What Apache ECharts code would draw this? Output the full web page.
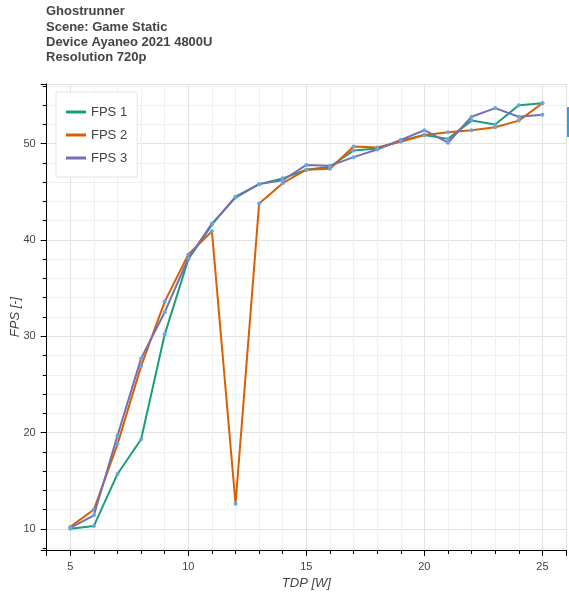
<!DOCTYPE html>
<html>
<head>
<meta charset="utf-8">
<script src="https://cdn.jsdelivr.net/npm/echarts@6/dist/echarts.min.js"></script>
<style>
html,body{margin:0;padding:0;background:#fff;}
#chart{width:569px;height:593px;}
</style>
</head>
<body>
<div id="chart"></div>
<script>
const titleLines = ["Ghostrunner", "Scene: Game Static", "Device Ayaneo 2021 4800U", "Resolution 720p"];
const tdp = [5, 6, 7, 8, 9, 10, 11, 12, 13, 14, 15, 16, 17, 18, 19, 20, 21, 22, 23, 24, 25];
const fps1 = [10.0, 10.3, 15.7, 19.3, 30.2, 38.0, 41.6, 44.5, 45.8, 46.4, 47.3, 47.6, 49.3, 49.5, 50.3, 50.9, 50.5, 52.4, 52.0, 54.0, 54.2];
const fps2 = [10.2, 12.0, 18.8, 26.9, 33.6, 38.5, 40.9, 12.6, 43.8, 45.9, 47.3, 47.4, 49.7, 49.6, 50.2, 50.9, 51.2, 51.4, 51.7, 52.4, 54.2];
const fps3 = [10.1, 11.4, 19.7, 27.7, 32.5, 38.1, 41.7, 44.4, 45.8, 46.2, 47.8, 47.7, 48.6, 49.4, 50.4, 51.4, 50.1, 52.8, 53.7, 52.8, 53.0];
const seriesNames = ["FPS 1", "FPS 2", "FPS 3"];
const seriesColors = ["#1b9e77", "#d95f02", "#7570b3"];
const xRange = [4, 26];
const yRange = [7.8, 56.2];

const FONT = "'Liberation Sans', Arial, Helvetica, sans-serif";
const chart = echarts.init(document.getElementById('chart'), null, {renderer: 'canvas'});

function pairs(xs, ys) { return xs.map((x, i) => [x, ys[i]]); }
const allSeries = [fps1, fps2, fps3];

const axisCommon = {
  axisLine: {show: true, onZero: false, lineStyle: {color: '#000', width: 1}},
  axisTick: {show: true, length: 6, lineStyle: {color: '#000', width: 1}},
  minorTick: {show: true, splitNumber: 5, length: 4, lineStyle: {color: '#000', width: 1}},
  splitLine: {show: true, lineStyle: {color: '#e2e2e2', width: 1}},
  minorSplitLine: {show: true, lineStyle: {color: '#efeff5', width: 1}},
  axisLabel: {color: '#444', fontSize: 11, fontFamily: FONT, margin: 11, showMinLabel: false, showMaxLabel: false},
  nameLocation: 'middle',
  nameMoveOverlap: false,
  nameTextStyle: {color: '#444', fontSize: 13, fontStyle: 'italic', fontFamily: FONT}
};

chart.setOption({
  animation: false,
  backgroundColor: '#fff',
  title: {
    text: titleLines.join('\n'),
    left: 46,
    top: 4,
    padding: 0,
    textStyle: {fontSize: 13, fontWeight: 'bold', color: '#444', lineHeight: 15.3, fontFamily: FONT}
  },
  grid: {left: 46.7, right: 3, top: 84, bottom: 43, containLabel: false, outerBoundsMode: 'none'},
  xAxis: Object.assign({}, axisCommon, {
    type: 'value', min: xRange[0], max: xRange[1], splitNumber: 5,
    name: 'TDP [W]', nameGap: 27
  }),
  yAxis: Object.assign({}, axisCommon, {
    type: 'value', min: yRange[0], max: yRange[1], splitNumber: 5,
    name: 'FPS [-]', nameGap: 25
  }),
  legend: {
    orient: 'vertical',
    left: 56,
    top: 92,
    padding: [12, 10, 11, 10],
    itemWidth: 20,
    itemHeight: 3,
    itemGap: 7,
    backgroundColor: '#fff',
    borderColor: '#e5e5e5',
    borderWidth: 1,
    textStyle: {color: '#444', fontSize: 13, fontFamily: FONT, lineHeight: 16},
    data: seriesNames.map((n, i) => ({name: n, icon: 'rect', itemStyle: {color: seriesColors[i]}}))
  },
  graphic: [{
    type: 'rect', right: 0, top: 107,
    shape: {width: 3, height: 30},
    style: {fill: '#26a7e1'}
  }],
  series: seriesNames.map((n, i) => ({
    name: n,
    type: 'line',
    data: pairs(tdp, allSeries[i]),
    showSymbol: true,
    symbol: 'circle',
    symbolSize: 4,
    itemStyle: {color: '#6aa6dc'},
    lineStyle: {color: seriesColors[i], width: 2},
    z: 2 + i
  }))
});
</script>
</body>
</html>
